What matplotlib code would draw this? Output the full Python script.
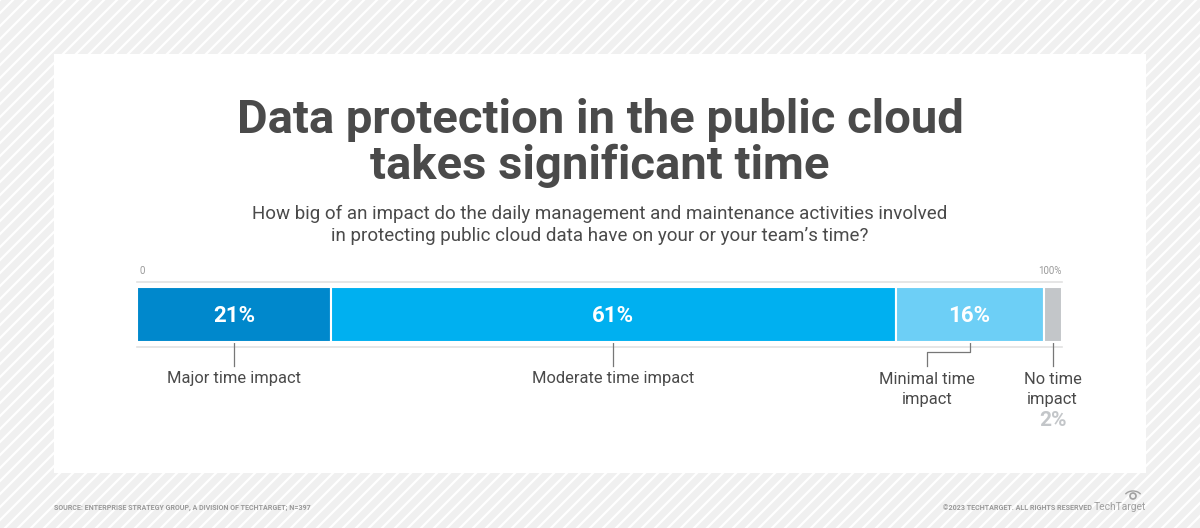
import matplotlib
matplotlib.use("Agg")
import matplotlib.pyplot as plt
from matplotlib.patches import Rectangle, Circle, Arc
import numpy as np

categories = ["Major time impact", "Moderate time impact", "Minimal time\nimpact", "No time\nimpact"]
values = [21, 61, 16, 2]
colors = ["#0088cc", "#00b0f0", "#6dcff6", "#c3c6c9"]
tick_labels = ["0", "100%"]

title = "Data protection in the public cloud\ntakes significant time"
subtitle = ("How big of an impact do the daily management and maintenance activities involved\n"
            "in protecting public cloud data have on your or your team\u2019s time?")
source = "SOURCE: ENTERPRISE STRATEGY GROUP, A DIVISION OF TECHTARGET; N=397"
copyright_txt = "\u00a92023 TECHTARGET. ALL RIGHTS RESERVED"

W, H = 1200, 528
fig = plt.figure(figsize=(W / 100, H / 100), dpi=100)

# background with diagonal stripes
bg = fig.add_axes([0, 0, 1, 1])
bg.set_xlim(0, W)
bg.set_ylim(H, 0)
bg.axis("off")
bg.add_patch(Rectangle((0, 0), W, H, facecolor="#f0f0f0", edgecolor="none", zorder=0))
for x0 in np.arange(-H, W + 20, 13):
    bg.plot([x0, x0 + H], [H, 0], color="white", lw=1.6, zorder=1)
bg.add_patch(Rectangle((54, 54), 1092, 419, facecolor="white", edgecolor="none", zorder=2))

TXT = "#4a4a4a"
fam = ["Roboto", "DejaVu Sans"]
bg.text(600, 143, title, ha="center", va="center", fontsize=34, fontweight="bold",
        color=TXT, family=fam, linespacing=1.03, zorder=5)
bg.text(600, 225, subtitle, ha="center", va="center", fontsize=13.5, color=TXT,
        family=fam, linespacing=1.35, zorder=5)
bg.text(54, 508, source, ha="left", va="center", fontsize=5.1, fontweight="bold",
        color="#9a9a9a", family=fam, zorder=5)
bg.text(1092, 508, copyright_txt, ha="right", va="center", fontsize=5.1, fontweight="bold",
        color="#9a9a9a", family=fam, zorder=5)
bg.text(1146, 507, "TechTarget", ha="right", va="center", fontsize=7.4,
        color="#a0a0a0", family=fam, zorder=5)
bg.add_patch(Circle((1133, 496), 3.0, facecolor="none", edgecolor="#a0a0a0", lw=1.2, zorder=5))
bg.add_patch(Arc((1133, 497), 17, 12, theta1=200, theta2=340, edgecolor="#a0a0a0", lw=1.0, zorder=5))

# bar axes: data y equals pixel y
ax = fig.add_axes([137 / W, (H - 440) / H, 925 / W, 180 / H])
ax.set_xlim(0, 100)
ax.set_ylim(440, 260)
ax.axis("off")

left = 0
centers = []
for v, c in zip(values, colors):
    ax.barh(314.5, v, left=left, height=55, color=c, edgecolor="white", linewidth=1.5, zorder=3)
    centers.append(left + v / 2)
    left += v

for v, cx in zip(values[:3], centers[:3]):
    ax.text(cx, 316, f"{v}%", ha="center", va="center", fontsize=16, fontweight="bold",
            color="white", family=fam, zorder=4)

# thin guide lines
for yy in (282, 347):
    ax.plot([0, 100], [yy, yy], color="#e2e2e2", lw=1.2, zorder=1, clip_on=False)

ax.text(0.3, 271, tick_labels[0], ha="left", va="center", fontsize=7, color="#9a9a9a", family=fam)
ax.text(100, 271, tick_labels[1], ha="right", va="center", fontsize=7, color="#9a9a9a", family=fam)

lc = "#777777"
fs = 11.9
# leader lines and labels
ax.plot([centers[0], centers[0]], [342, 366], color=lc, lw=0.9, clip_on=False)
ax.text(centers[0], 378, categories[0], ha="center", va="center", fontsize=fs, color=TXT, family=fam)
ax.plot([centers[1], centers[1]], [342, 366], color=lc, lw=0.9, clip_on=False)
ax.text(centers[1], 378, categories[1], ha="center", va="center", fontsize=fs, color=TXT, family=fam)

min_x = (927 - 137) / 925 * 100
ax.plot([centers[2], centers[2], min_x, min_x], [342, 352, 352, 366], color=lc, lw=0.9, clip_on=False)
ax.text(min_x, 389.5, categories[2], ha="center", va="center", fontsize=fs, color=TXT,
        family=fam, linespacing=1.45)

nx = centers[3]
ax.plot([nx, nx], [342, 366], color=lc, lw=0.9, clip_on=False)
ax.text(nx, 389.5, categories[3], ha="center", va="center", fontsize=fs, color=TXT,
        family=fam, linespacing=1.45)
ax.text(nx, 421, f"{values[3]}%", ha="center", va="center", fontsize=15, fontweight="bold",
        color="#c3c6c9", family=fam)

fig.savefig("out.png", dpi=100)
